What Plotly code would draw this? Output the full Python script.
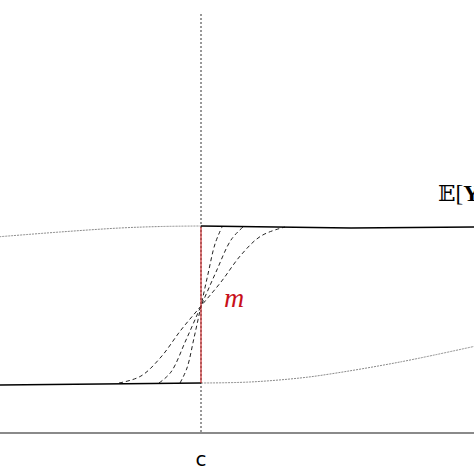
import plotly.graph_objects as go

# x measured relative to the cutoff c (c = 0); y measured from the horizontal axis
c_value = 0.0

# solid expected-outcome step (black)
low_x = [-2.05, -1.0, 0.0]
low_y = [0.47, 0.48, 0.49]
high_x = [0.0, 1.5, 2.75]
high_y = [2.06, 2.04, 2.05]

# grey dotted continuation curves
upper_dot_x = [-2.05, -1.41, -0.81, -0.4, 0.0]
upper_dot_y = [1.95, 2.00, 2.04, 2.055, 2.06]
lower_dot_x = [0.0, 0.49, 0.99, 1.29, 1.99, 2.75]
lower_dot_y = [0.49, 0.50, 0.54, 0.58, 0.70, 0.86]

# dashed smooth transitions
sig_a_x = [-0.82, -0.6, -0.4, -0.2, 0.0, 0.2, 0.4, 0.6, 0.84]
sig_a_y = [0.49, 0.56, 0.75, 1.02, 1.26, 1.50, 1.77, 1.96, 2.05]
sig_b_x = [-0.42, -0.3, -0.15, 0.0, 0.15, 0.3, 0.42]
sig_b_y = [0.49, 0.60, 0.92, 1.26, 1.60, 1.92, 2.05]
sig_c_x = [-0.21, -0.14, -0.07, 0.0, 0.07, 0.14, 0.21]
sig_c_y = [0.49, 0.64, 0.94, 1.26, 1.58, 1.88, 2.05]

# red jump and dotted cutoff line
jump_y = [0.49, 2.05]
cut_y = [0.0, 4.18]

m_pos = (0.33, 1.35)
ey_pos = (2.35, 2.39)

fig = go.Figure()

grey_dot = dict(color="#8a8a8a", width=1, dash="2px,1px")
fig.add_trace(go.Scatter(x=upper_dot_x, y=upper_dot_y, mode="lines", line=dict(**grey_dot, shape="spline")))
fig.add_trace(go.Scatter(x=lower_dot_x, y=lower_dot_y, mode="lines", line=dict(**grey_dot, shape="spline")))

dash_style = dict(color="#222222", width=1, dash="4px,3px", shape="spline")
for sx, sy in [(sig_a_x, sig_a_y), (sig_b_x, sig_b_y), (sig_c_x, sig_c_y)]:
    fig.add_trace(go.Scatter(x=sx, y=sy, mode="lines", line=dash_style))

fig.add_trace(go.Scatter(x=[c_value, c_value], y=cut_y, mode="lines",
                         line=dict(color="#333333", width=1, dash="2px,2px")))
fig.add_trace(go.Scatter(x=low_x, y=low_y, mode="lines", line=dict(color="black", width=1.6)))
fig.add_trace(go.Scatter(x=high_x, y=high_y, mode="lines", line=dict(color="black", width=1.6)))
fig.add_trace(go.Scatter(x=[c_value, c_value], y=jump_y, mode="lines",
                         line=dict(color="#c8282a", width=1.2)))

fig.add_annotation(x=m_pos[0], y=m_pos[1], text="<i>m</i>", showarrow=False,
                   font=dict(family="Liberation Serif, serif", size=28, color="#c8101a"))
fig.add_annotation(x=ey_pos[0], y=ey_pos[1], text="𝔼[<b>Y</b>(1)|<b>X</b>]", showarrow=False,
                   xanchor="left", yanchor="middle",
                   font=dict(family="Liberation Serif, DejaVu Serif, DejaVu Sans, serif", size=23, color="black"))

fig.update_layout(
    width=474, height=474,
    margin=dict(l=0, r=0, t=0, b=42),
    paper_bgcolor="white", plot_bgcolor="white",
    showlegend=False, hovermode=False,
    xaxis=dict(range=[-2.01, 2.73], showgrid=False, zeroline=False,
               showline=True, linecolor="#8a8a8a", linewidth=1.5,
               tickmode="array", tickvals=[c_value], ticktext=["c"],
               ticks="outside", ticklen=8, tickcolor="rgba(0,0,0,0)",
               tickfont=dict(family="DejaVu Sans", size=20, color="black")),
    yaxis=dict(range=[0, 4.32], showgrid=False, zeroline=False, showticklabels=False,
               showline=False),
)

fig.write_html("out.html", config={"displayModeBar": False},
               post_script="document.body.style.margin='0';document.body.style.overflow='hidden';")
